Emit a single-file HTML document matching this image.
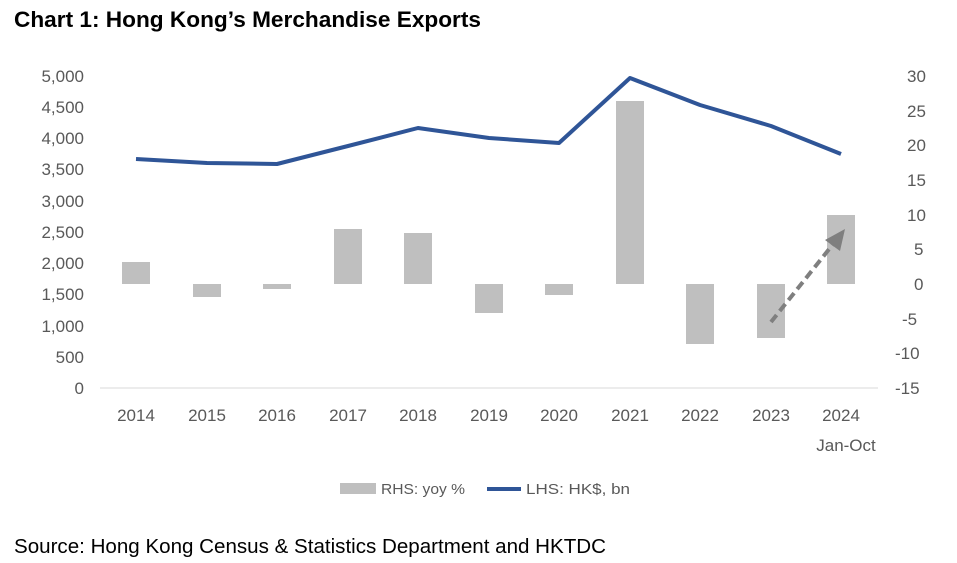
<!DOCTYPE html>
<html><head><meta charset="utf-8"><style>
body{margin:0;background:#fff;}
svg{display:block;font-family:"Liberation Sans",Arial,sans-serif;}
</style></head><body>
<svg width="957" height="563" viewBox="0 0 957 563">
<text x="14" y="27" font-size="22" font-weight="bold" fill="#000" textLength="467" lengthAdjust="spacingAndGlyphs">Chart 1: Hong Kong’s Merchandise Exports</text>
<g font-size="17" fill="#595959" text-anchor="end">
<text x="84" y="82">5,000</text><text x="84" y="113">4,500</text><text x="84" y="144">4,000</text>
<text x="84" y="175">3,500</text><text x="84" y="207">3,000</text><text x="84" y="238">2,500</text>
<text x="84" y="269">2,000</text><text x="84" y="300">1,500</text><text x="84" y="332">1,000</text>
<text x="84" y="363">500</text><text x="84" y="394">0</text>
</g>
<g font-size="17" fill="#595959" text-anchor="start">
<text x="907" y="82">30</text><text x="907" y="117">25</text><text x="907" y="151">20</text>
<text x="907" y="186">15</text><text x="907" y="221">10</text><text x="914" y="255">5</text>
<text x="914" y="290">0</text><text x="902" y="325">-5</text><text x="895" y="359">-10</text>
<text x="895" y="394">-15</text>
</g>
<line x1="100" y1="388" x2="878" y2="388" stroke="#d9d9d9" stroke-width="1"/>
<g fill="#bfbfbf">
<rect x="122" y="262" width="28" height="22"/>
<rect x="193" y="284" width="28" height="13"/>
<rect x="263" y="284" width="28" height="5"/>
<rect x="334" y="229" width="28" height="55"/>
<rect x="404" y="233" width="28" height="51"/>
<rect x="475" y="284" width="28" height="29"/>
<rect x="545" y="284" width="28" height="11"/>
<rect x="616" y="101" width="28" height="183"/>
<rect x="686" y="284" width="28" height="60"/>
<rect x="757" y="284" width="28" height="54"/>
<rect x="827" y="215" width="28" height="69"/>
</g>
<polyline fill="none" stroke="#2f5597" stroke-width="4" stroke-linejoin="round" points="136,159 207,163 277,164 348,146 418,128 489,138 559,143 630,78 700,105 771,126 841,154"/>
<line x1="771" y1="322" x2="834" y2="243" stroke="#7f7f7f" stroke-width="4" stroke-dasharray="9,5"/>
<polygon points="845,229 825,240 840,251" fill="#7f7f7f"/>
<g font-size="17" fill="#595959" text-anchor="middle">
<text x="136" y="421">2014</text><text x="207" y="421">2015</text><text x="277" y="421">2016</text>
<text x="348" y="421">2017</text><text x="418" y="421">2018</text><text x="489" y="421">2019</text>
<text x="559" y="421">2020</text><text x="630" y="421">2021</text><text x="700" y="421">2022</text>
<text x="771" y="421">2023</text><text x="841" y="421">2024</text><text x="846" y="451">Jan-Oct</text>
</g>
<rect x="340" y="483" width="36" height="11" fill="#bfbfbf"/>
<text x="381" y="494" font-size="15" fill="#595959" textLength="84" lengthAdjust="spacingAndGlyphs">RHS: yoy %</text>
<line x1="487" y1="489" x2="521" y2="489" stroke="#2f5597" stroke-width="4"/>
<text x="526" y="494" font-size="15" fill="#595959" textLength="104" lengthAdjust="spacingAndGlyphs">LHS: HK$, bn</text>
<text x="14" y="553" font-size="20" fill="#000" textLength="592" lengthAdjust="spacingAndGlyphs">Source: Hong Kong Census &amp; Statistics Department and HKTDC</text>
</svg>
</body></html>
